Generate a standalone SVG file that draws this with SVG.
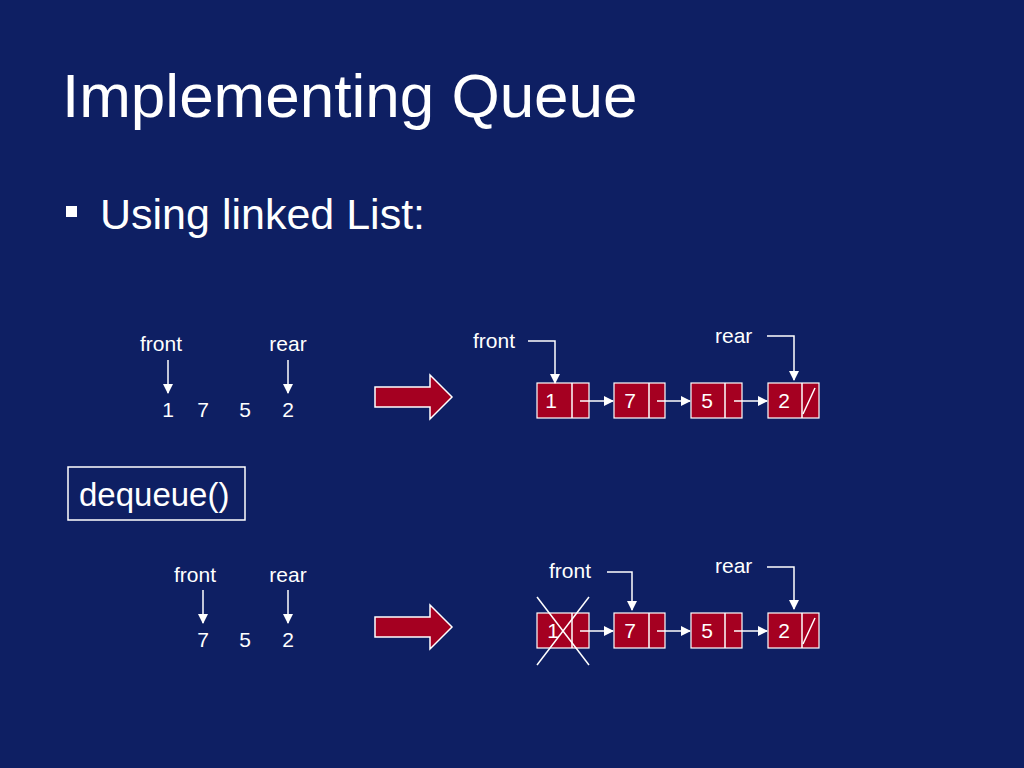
<svg xmlns="http://www.w3.org/2000/svg" width="1024" height="768" viewBox="0 0 1024 768">
<style>
text{font-family:"Liberation Sans",Arial,sans-serif;fill:#fff}
.s{font-size:21px}
.n{font-size:21px;text-anchor:middle}
.box{fill:#a50021;stroke:#fff;stroke-width:1.2}
.ln{stroke:#fff;stroke-width:1.5;fill:none}
.big{fill:#a50021;stroke:#fff;stroke-width:1.5}
</style>
<defs>
<marker id="ah" markerWidth="10" markerHeight="10" refX="9" refY="5" orient="auto" markerUnits="userSpaceOnUse">
<path d="M0,0 L10,5 L0,10 z" fill="#fff"/>
</marker>
</defs>
<rect width="1024" height="768" fill="#0e1f63"/>
<text x="62" y="117" font-size="62">Implementing Queue</text>
<rect x="66" y="206" width="11" height="11" fill="#fff"/>
<text x="100" y="229" font-size="43">Using linked List:</text>
<g id="dequeue"><rect x="68" y="467" width="177" height="53" fill="none" stroke="#fff" stroke-width="1.5"/><text x="79" y="506" font-size="33">dequeue()</text></g>

<g id="left-top">
<text class="n" x="161" y="351">front</text><text class="n" x="288" y="351">rear</text>
<text class="n" x="168" y="417">1</text><text class="n" x="203" y="417">7</text><text class="n" x="245" y="417">5</text><text class="n" x="288" y="417">2</text>
</g>
<g id="left-bottom">
<text class="n" x="195" y="582">front</text><text class="n" x="288" y="582">rear</text>
<text class="n" x="203" y="647">7</text><text class="n" x="245" y="647">5</text><text class="n" x="288" y="647">2</text>
</g>
<g id="bigarrows">
<path class="big" d="M375,387 H430 V375 L452,397 L430,419 V407 H375 Z"/>
<path class="big" d="M375,617 H430 V605 L452,627 L430,649 V637 H375 Z"/>
</g>

<g id="list-top">
<g id="t1"><rect class="box" x="537" y="383" width="52" height="35"/><line class="ln" x1="572" y1="383" x2="572" y2="418"/><text class="n" x="551" y="408">1</text></g>
<g id="t7"><rect class="box" x="614" y="383" width="51" height="35"/><line class="ln" x1="649" y1="383" x2="649" y2="418"/><text class="n" x="630" y="408">7</text></g>
<g id="t5"><rect class="box" x="691" y="383" width="51" height="35"/><line class="ln" x1="725" y1="383" x2="725" y2="418"/><text class="n" x="707" y="408">5</text></g>
<g id="t2"><rect class="box" x="768" y="383" width="51" height="35"/><line class="ln" x1="802" y1="383" x2="802" y2="418"/><text class="n" x="784" y="408">2</text><line class="ln" x1="803" y1="414" x2="815" y2="388"/></g>
<text class="s" x="473" y="348">front</text><text class="s" x="715" y="343">rear</text>
</g>
<g id="list-bottom">
<g id="b1"><rect class="box" x="537" y="613" width="52" height="35"/><line class="ln" x1="572" y1="613" x2="572" y2="648"/><text class="n" x="553" y="638">1</text></g>
<g id="b7"><rect class="box" x="614" y="613" width="51" height="35"/><line class="ln" x1="649" y1="613" x2="649" y2="648"/><text class="n" x="630" y="638">7</text></g>
<g id="b5"><rect class="box" x="691" y="613" width="51" height="35"/><line class="ln" x1="725" y1="613" x2="725" y2="648"/><text class="n" x="707" y="638">5</text></g>
<g id="b2"><rect class="box" x="768" y="613" width="51" height="35"/><line class="ln" x1="802" y1="613" x2="802" y2="648"/><text class="n" x="784" y="638">2</text><line class="ln" x1="803" y1="644" x2="815" y2="618"/></g>
<line class="ln" x1="537" y1="597" x2="589" y2="665"/><line class="ln" x1="589" y1="597" x2="537" y2="665"/>
<text class="s" x="549" y="578">front</text><text class="s" x="715" y="573">rear</text>
</g>

<g id="connectors">
<line class="ln" x1="168" y1="360" x2="168" y2="393" marker-end="url(#ah)"/>
<line class="ln" x1="288" y1="360" x2="288" y2="393" marker-end="url(#ah)"/>
<line class="ln" x1="203" y1="590" x2="203" y2="623" marker-end="url(#ah)"/>
<line class="ln" x1="288" y1="590" x2="288" y2="623" marker-end="url(#ah)"/>
<path class="ln" d="M528,341 H555 V383" marker-end="url(#ah)"/>
<path class="ln" d="M767,336 H794 V380" marker-end="url(#ah)"/>
<path class="ln" d="M607,572 H632 V610" marker-end="url(#ah)"/>
<path class="ln" d="M767,567 H794 V609" marker-end="url(#ah)"/>
<line class="ln" x1="580" y1="401" x2="613" y2="401" marker-end="url(#ah)"/>
<line class="ln" x1="657" y1="401" x2="690" y2="401" marker-end="url(#ah)"/>
<line class="ln" x1="734" y1="401" x2="767" y2="401" marker-end="url(#ah)"/>
<line class="ln" x1="580" y1="631" x2="613" y2="631" marker-end="url(#ah)"/>
<line class="ln" x1="657" y1="631" x2="690" y2="631" marker-end="url(#ah)"/>
<line class="ln" x1="734" y1="631" x2="767" y2="631" marker-end="url(#ah)"/>
</g>
</svg>
